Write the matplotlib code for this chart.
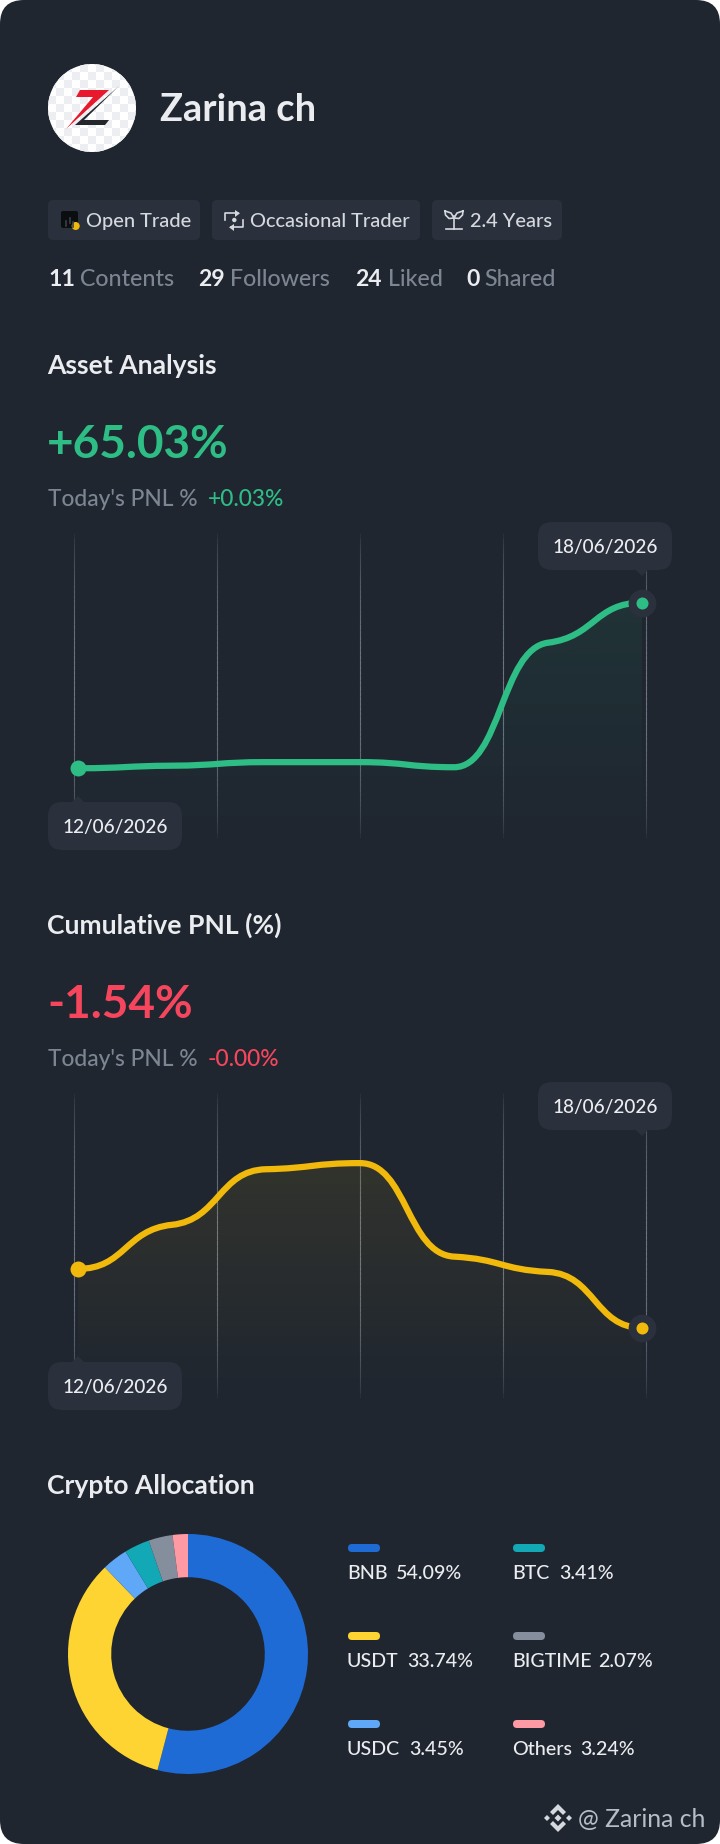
import numpy as np
import matplotlib
matplotlib.use("Agg")
import matplotlib.pyplot as plt
from matplotlib.collections import LineCollection
from matplotlib.patches import Circle, FancyBboxPatch, PathPatch, Polygon, Rectangle
from matplotlib.path import Path

W = 720
H = 1844
FONT = "Lato"

BG = "#1F2630"
CHIP = "#2A303C"
WHITE = "#EAECEF"
GREY = "#7C8592"
GREEN = "#2EBD85"
RED = "#F6465D"
YELLOW = "#F0B90B"

days = [0, 1, 2, 3, 4, 5, 6]
asset_pnl = [0, 1.0, 2.4, 2.4, 0.4, 49.3, 65.03]
cum_pnl = [0, 1.15, 2.60, 2.76, 0.32, -0.08, -1.54]
start_date = "12/06/2026"
end_date = "18/06/2026"

tag_labels = ["Open Trade", "Occasional Trader", "2.4 Years"]
stat_numbers = ["11", "29", "24", "0"]
stat_names = ["Contents", "Followers", "Liked", "Shared"]

legend_names = ["BNB", "USDT", "USDC", "BTC", "BIGTIME", "Others"]
legend_values = ["54.09%", "33.74%", "3.45%", "3.41%", "2.07%", "3.24%"]
legend_colors = ["#1F6BD6", "#FDD431", "#5FA8F8", "#12A8B5", "#848E9C", "#FF99A4"]
# the ring draws the grey slice wider than the pink one
ring_values = [54.09, 33.74, 3.45, 3.41, 3.24, 2.07]


def px(size):
    return size * 0.72


def txt(x, y, s, size, color=WHITE, weight="medium", ha="left"):
    return page.text(x, y, s, fontsize=px(size), color=color, fontweight=weight,
                     ha=ha, va="baseline", family=[FONT, "DejaVu Sans"], zorder=6)


def box(x0, y0, x1, y1, r, color, zorder=2):
    page.add_patch(FancyBboxPatch((x0 + r, y0 + r), x1 - x0 - 2 * r, y1 - y0 - 2 * r,
                                  boxstyle="round,pad=%f,rounding_size=%f" % (r, r),
                                  fc=color, ec="none", zorder=zorder))


def smooth_path(x, y):
    # monotone style bezier, flatter at the points like the app's line
    x = np.array(x, dtype=float)
    y = np.array(y, dtype=float)
    sec = np.diff(y) / np.diff(x)
    slope = np.zeros(len(x))
    for i in range(1, len(x) - 1):
        if sec[i - 1] * sec[i] > 0:
            slope[i] = 0.2 * 2 * sec[i - 1] * sec[i] / (sec[i - 1] + sec[i])
    verts = [(x[0], y[0])]
    codes = [Path.MOVETO]
    for i in range(len(x) - 1):
        d = 0.5 * (x[i + 1] - x[i])
        verts += [(x[i] + d, y[i] + slope[i] * d), (x[i + 1] - d, y[i + 1] - slope[i + 1] * d),
                  (x[i + 1], y[i + 1])]
        codes += [Path.CURVE4] * 3
    return verts, codes


def line_chart(top, ylim, values, color):
    ax = fig.add_axes([48 / W, 1 - (top + 305) / H, 624 / W, 305 / H])
    ax.patch.set_alpha(0)
    ax.axis("off")
    xlim = (-0.319, 6.319)

    # fading vertical grid
    for gx in [-0.04, 1.48, 3.0, 4.52, 6.04]:
        ys = np.linspace(ylim[0], ylim[1], 61)
        segs = [[(gx, ys[i]), (gx, ys[i + 1])] for i in range(60)]
        t = np.linspace(0, 1, 60)
        alpha = 0.55 * np.clip(np.sin(np.pi * t), 0, 1) ** 0.7 + 0.08
        cols = [(0.62, 0.65, 0.70, a) for a in alpha]
        ax.add_collection(LineCollection(segs, colors=cols, linewidths=0.8, zorder=1))

    verts, codes = smooth_path(days, values)
    area = Path(verts + [(days[-1], ylim[0]), (days[0], ylim[0]), (days[0], values[0])],
                codes + [Path.LINETO, Path.LINETO, Path.CLOSEPOLY])
    grad = np.zeros((100, 2, 4))
    grad[..., :3] = matplotlib.colors.to_rgb(color)
    grad[..., 3] = np.linspace(0.09, 0, 100)[:, None]
    im = ax.imshow(grad, extent=(days[0], days[-1], ylim[0], max(values)), origin="upper",
                   aspect="auto", zorder=2, interpolation="bilinear")
    im.set_clip_path(PathPatch(area, transform=ax.transData))

    ax.add_patch(PathPatch(Path(verts, codes), fc="none", ec=color, lw=4.5, capstyle="round", zorder=3))
    ax.scatter(days[0], values[0], s=132, color=color, lw=0, zorder=4)
    ax.scatter(days[-1], values[-1], s=400, color=CHIP, lw=0, zorder=4)
    ax.scatter(days[-1], values[-1], s=75, color=color, lw=0, zorder=5)
    ax.set_xlim(xlim)
    ax.set_ylim(ylim)

    # date bubbles
    box(538, top - 11, 672, top + 37, 14, CHIP, zorder=7)
    page.add_patch(Polygon([(636, top + 37), (648, top + 37), (642, top + 43)], fc=CHIP, ec="none", zorder=7))
    txt(605, top + 20, end_date, 19, ha="center").set_zorder(8)
    box(48, top + 269, 182, top + 317, 14, CHIP, zorder=7)
    page.add_patch(Polygon([(72, top + 269), (84, top + 269), (78, top + 263)], fc=CHIP, ec="none", zorder=7))
    txt(115, top + 300, start_date, 19, ha="center").set_zorder(8)


fig = plt.figure(figsize=(W / 100, H / 100), dpi=100, facecolor="white")
page = fig.add_axes([0, 0, 1, 1])
page.set_xlim(0, W)
page.set_ylim(H, 0)
page.axis("off")
page.set_zorder(5)
page.patch.set_alpha(0)

back = fig.add_axes([0, 0, 1, 1])
back.set_xlim(0, W)
back.set_ylim(H, 0)
back.axis("off")
back.set_zorder(0)
back.add_patch(FancyBboxPatch((24, 24), W - 48, H - 48, boxstyle="round,pad=24,rounding_size=24",
                              fc=BG, ec="none"))

# avatar
disc = Circle((92, 108), 44, fc="#FFFFFF", ec="none", zorder=2)
page.add_patch(disc)
for i in range(11):
    for j in range(11):
        if (i + j) % 2 == 0:
            sq = Rectangle((48 + i * 8, 64 + j * 8), 8, 8, fc="#ECEEF2", ec="none", zorder=2)
            page.add_patch(sq)
            sq.set_clip_path(disc)
page.add_patch(Polygon([(80, 90), (109, 90), (66, 129), (93, 97), (76, 97)], fc="#E8192C", ec="none", zorder=3))
page.add_patch(Polygon([(119, 86), (84, 120), (109, 120), (105, 125), (75, 125)], fc="#23262B", ec="none", zorder=3))

txt(160, 121, "Zarina ch", 38, weight="bold")

# tags
tag_boxes = [(48, 200), (212, 420), (432, 562)]
tag_text_x = [86, 250, 470]
for (x0, x1), tx, label in zip(tag_boxes, tag_text_x, tag_labels):
    box(x0, 200, x1, 240, 5, CHIP)
    txt(tx, 227, label, 20, color="#D5D9DE")

# tag icons, hand drawn
box(61, 211, 78, 228, 2, "#0B0E11", zorder=3)
page.add_patch(Circle((75.7, 226), 4, fc=YELLOW, ec="none", zorder=4))
for ic_x, ic_y in [(66, 221), (70, 218), (73, 222)]:
    page.plot([ic_x, ic_x], [ic_y, ic_y + 5], color="#3A4049", lw=1.2, zorder=4)
ic = "#D5D9DE"
page.plot([225.4, 225.4, 238], [220, 213.3, 213.3], color=ic, lw=1.2, zorder=3)
page.plot([242.5, 242.5, 231], [220, 227.3, 227.3], color=ic, lw=1.2, zorder=3)
page.add_patch(Polygon([(235, 210), (240, 213.3), (235, 217)], fc=ic, ec="none", zorder=3))
page.add_patch(Polygon([(234, 224), (229, 227.3), (234, 231)], fc=ic, ec="none", zorder=3))
page.add_patch(Circle((234.3, 220), 2.2, fc=ic, ec="none", zorder=3))
page.plot([454, 454], [216, 229], color=ic, lw=1.2, zorder=3)
page.plot([446, 462], [229.5, 229.5], color=ic, lw=1.2, zorder=3)
page.plot([445, 451, 454, 449, 445.5, 445], [211, 213, 218, 218.5, 215, 211], color=ic, lw=1.2, zorder=3)
page.plot([463, 457, 454, 459, 462.5, 463], [211, 213, 218, 218.5, 215, 211], color=ic, lw=1.2, zorder=3)

# counters
num_x = [48, 198, 355, 466]
name_x = [80, 230, 388, 484]
for nx, mx, num, name in zip(num_x, name_x, stat_numbers, stat_names):
    txt(nx, 286, num, 23, weight="bold")
    txt(mx, 286, name, 23.3, color=GREY)

# asset analysis block
txt(47, 374, "Asset Analysis", 26.5, weight="bold")
txt(47, 458, "+65.03%", 46, color=GREEN, weight="bold")
txt(48, 506, "Today's PNL %", 22.8, color=GREY)
txt(208, 506, "+0.03%", 22.8, color=GREEN)
line_chart(533, (-27.4, 92.4), asset_pnl, GREEN)

# cumulative block
txt(47, 934, "Cumulative PNL (%)", 26.5, weight="bold")
txt(47, 1018, "-1.54%", 46, color=RED, weight="bold")
txt(48, 1066, "Today's PNL %", 22.8, color=GREY)
txt(208, 1066, "-0.00%", 22.8, color=RED)
line_chart(1093, (-3.37, 4.59), cum_pnl, YELLOW)

# allocation block
txt(47, 1494, "Crypto Allocation", 26.5, weight="bold")
ring = fig.add_axes([68 / W, 1 - 1774 / H, 240 / W, 240 / H])
ring.pie(ring_values, colors=legend_colors, startangle=90, counterclock=False,
         radius=1, wedgeprops={"width": 0.36, "linewidth": 0})
ring.set_xlim(-1, 1)
ring.set_ylim(-1, 1)
ring.patch.set_alpha(0)

swatch_x = [348, 348, 348, 513, 513, 513]
swatch_y = [1544, 1632, 1720, 1544, 1632, 1720]
value_x = [396.7, 408.6, 410, 560, 599, 581]
for sx, sy, vx, name, val, col in zip(swatch_x, swatch_y, value_x, legend_names, legend_values, legend_colors):
    box(sx, sy, sx + 32, sy + 8, 4, col)
    txt(sx - 1, sy + 35, name, 19.7)
    txt(vx - 1, sy + 35, val, 19.7)

# watermark
mx, my = 558, 1818
wm = "#D5D9DE"
page.add_patch(Polygon([(mx, my - 14), (mx + 8, my - 6), (mx + 5, my - 3), (mx, my - 8), (mx - 5, my - 3), (mx - 8, my - 6)],
                       fc=wm, ec="none", zorder=3))
page.add_patch(Polygon([(mx, my + 14), (mx + 8, my + 6), (mx + 5, my + 3), (mx, my + 8), (mx - 5, my + 3), (mx - 8, my + 6)],
                       fc=wm, ec="none", zorder=3))
for dx, r in [(-11, 3), (11, 3), (0, 3.5)]:
    page.add_patch(Polygon([(mx + dx - r, my), (mx + dx, my - r), (mx + dx + r, my), (mx + dx, my + r)],
                           fc=wm, ec="none", zorder=3))
txt(577.6, 1827, "@ Zarina ch", 24.8, color="#B7BDC6", weight="normal")

fig.savefig("out.png", dpi=100, facecolor="white")
